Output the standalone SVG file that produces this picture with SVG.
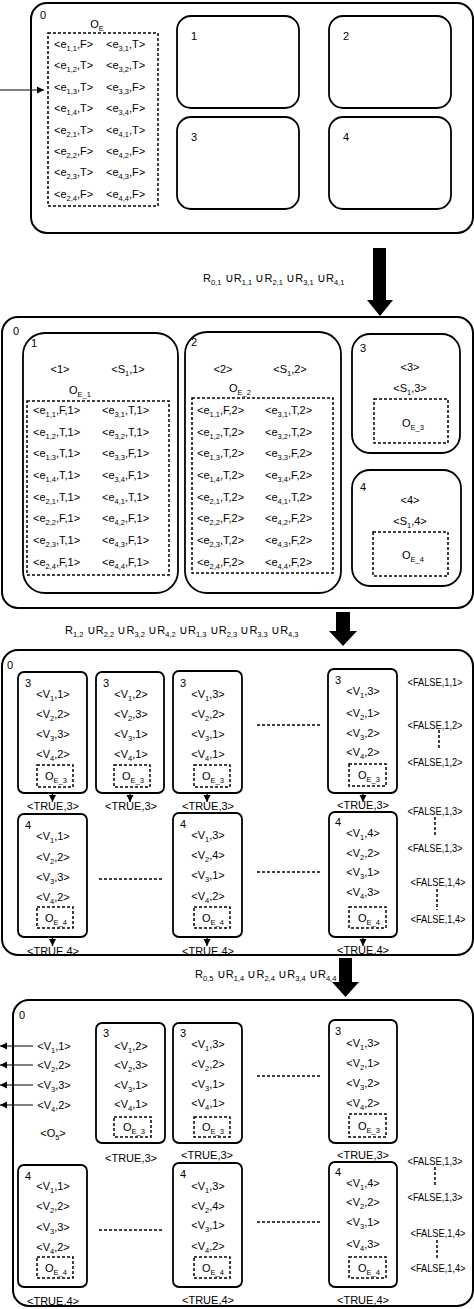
<svg xmlns="http://www.w3.org/2000/svg" width="474" height="1309" viewBox="0 0 474 1309">
<style>
.t{font-family:"Liberation Sans",Arial,sans-serif;font-size:11px;fill:#000}
.m{text-anchor:middle}
.s{font-size:7.5px}
.u{font-size:12px}
.outer{fill:#fff;stroke:#000;stroke-width:2}
.box{fill:none;stroke:#000;stroke-width:1.8}
.dash{fill:none;stroke:#000;stroke-width:1.5;stroke-dasharray:3 2}
.dl{stroke:#000;stroke-width:1.5;stroke-dasharray:3 2;fill:none}
.ln{stroke:#000;stroke-width:1.2;fill:none}
</style>
<defs>
<marker id="ah" viewBox="0 0 10 10" refX="10" refY="5" markerWidth="6" markerHeight="6" orient="auto-start-reverse">
<path d="M0,0 L10,5 L0,10 z" fill="#000"/>
</marker>
</defs>

<!-- ===== Section 1 ===== -->
<g id="s1-outer">
<rect class="outer" x="31" y="3" width="442" height="230" rx="16"/>
<text class="t" x="40" y="19">0</text>
</g>
<g id="s1-OE">
<text class="t m" x="97" y="28">O<tspan class="s" dy="2.5">E</tspan></text>
<rect class="dash" x="48" y="33" width="110" height="173"/>
<text class="t" x="54" y="48">&lt;e<tspan class="s" dy="2.5">1,1</tspan><tspan dy="-2.5">,F&gt;</tspan></text>
<text class="t" x="54" y="69">&lt;e<tspan class="s" dy="2.5">1,2</tspan><tspan dy="-2.5">,T&gt;</tspan></text>
<text class="t" x="54" y="91">&lt;e<tspan class="s" dy="2.5">1,3</tspan><tspan dy="-2.5">,T&gt;</tspan></text>
<text class="t" x="54" y="112">&lt;e<tspan class="s" dy="2.5">1,4</tspan><tspan dy="-2.5">,T&gt;</tspan></text>
<text class="t" x="54" y="134">&lt;e<tspan class="s" dy="2.5">2,1</tspan><tspan dy="-2.5">,T&gt;</tspan></text>
<text class="t" x="54" y="155">&lt;e<tspan class="s" dy="2.5">2,2</tspan><tspan dy="-2.5">,F&gt;</tspan></text>
<text class="t" x="54" y="176">&lt;e<tspan class="s" dy="2.5">2,3</tspan><tspan dy="-2.5">,T&gt;</tspan></text>
<text class="t" x="54" y="198">&lt;e<tspan class="s" dy="2.5">2,4</tspan><tspan dy="-2.5">,F&gt;</tspan></text>
<text class="t" x="106" y="48">&lt;e<tspan class="s" dy="2.5">3,1</tspan><tspan dy="-2.5">,T&gt;</tspan></text>
<text class="t" x="106" y="69">&lt;e<tspan class="s" dy="2.5">3,2</tspan><tspan dy="-2.5">,T&gt;</tspan></text>
<text class="t" x="106" y="91">&lt;e<tspan class="s" dy="2.5">3,3</tspan><tspan dy="-2.5">,F&gt;</tspan></text>
<text class="t" x="106" y="112">&lt;e<tspan class="s" dy="2.5">3,4</tspan><tspan dy="-2.5">,F&gt;</tspan></text>
<text class="t" x="106" y="134">&lt;e<tspan class="s" dy="2.5">4,1</tspan><tspan dy="-2.5">,T&gt;</tspan></text>
<text class="t" x="106" y="155">&lt;e<tspan class="s" dy="2.5">4,2</tspan><tspan dy="-2.5">,F&gt;</tspan></text>
<text class="t" x="106" y="176">&lt;e<tspan class="s" dy="2.5">4,3</tspan><tspan dy="-2.5">,F&gt;</tspan></text>
<text class="t" x="106" y="198">&lt;e<tspan class="s" dy="2.5">4,4</tspan><tspan dy="-2.5">,F&gt;</tspan></text>
</g>
<g id="s1-box1"><rect class="box" x="177" y="16" width="122" height="92" rx="14"/><text class="t" x="191" y="40">1</text></g>
<g id="s1-box2"><rect class="box" x="329" y="16" width="122" height="92" rx="14"/><text class="t" x="343" y="40">2</text></g>
<g id="s1-box3"><rect class="box" x="177" y="117" width="122" height="92" rx="14"/><text class="t" x="191" y="141">3</text></g>
<g id="s1-box4"><rect class="box" x="329" y="117" width="122" height="92" rx="14"/><text class="t" x="343" y="141">4</text></g>

<!-- ===== Section 2 ===== -->
<g id="s2-outer">
<rect class="outer" x="2" y="317" width="471" height="291" rx="16"/>
<text class="t" x="13" y="335">0</text>
</g>
<g id="s2-box1">
<rect class="box" x="23" y="333" width="155" height="260" rx="22"/>
<text class="t" x="31" y="347">1</text>
<text class="t m" x="60" y="373">&lt;1&gt;</text>
<text class="t m" x="128" y="373">&lt;S<tspan class="s" dy="2.5">1</tspan><tspan dy="-2.5">,1&gt;</tspan></text>
<text class="t m" x="80" y="394">O<tspan class="s" dy="2.5">E_1</tspan></text>
<rect class="dash" x="27" y="401" width="142" height="174"/>
<text class="t" x="33" y="414">&lt;e<tspan class="s" dy="2.5">1,1</tspan><tspan dy="-2.5">,F,1&gt;</tspan></text>
<text class="t" x="33" y="436">&lt;e<tspan class="s" dy="2.5">1,2</tspan><tspan dy="-2.5">,T,1&gt;</tspan></text>
<text class="t" x="33" y="457">&lt;e<tspan class="s" dy="2.5">1,3</tspan><tspan dy="-2.5">,T,1&gt;</tspan></text>
<text class="t" x="33" y="479">&lt;e<tspan class="s" dy="2.5">1,4</tspan><tspan dy="-2.5">,T,1&gt;</tspan></text>
<text class="t" x="33" y="501">&lt;e<tspan class="s" dy="2.5">2,1</tspan><tspan dy="-2.5">,T,1&gt;</tspan></text>
<text class="t" x="33" y="522">&lt;e<tspan class="s" dy="2.5">2,2</tspan><tspan dy="-2.5">,F,1&gt;</tspan></text>
<text class="t" x="33" y="544">&lt;e<tspan class="s" dy="2.5">2,3</tspan><tspan dy="-2.5">,T,1&gt;</tspan></text>
<text class="t" x="33" y="566">&lt;e<tspan class="s" dy="2.5">2,4</tspan><tspan dy="-2.5">,F,1&gt;</tspan></text>
<text class="t" x="102" y="414">&lt;e<tspan class="s" dy="2.5">3,1</tspan><tspan dy="-2.5">,T,1&gt;</tspan></text>
<text class="t" x="102" y="436">&lt;e<tspan class="s" dy="2.5">3,2</tspan><tspan dy="-2.5">,T,1&gt;</tspan></text>
<text class="t" x="102" y="457">&lt;e<tspan class="s" dy="2.5">3,3</tspan><tspan dy="-2.5">,F,1&gt;</tspan></text>
<text class="t" x="102" y="479">&lt;e<tspan class="s" dy="2.5">3,4</tspan><tspan dy="-2.5">,F,1&gt;</tspan></text>
<text class="t" x="102" y="501">&lt;e<tspan class="s" dy="2.5">4,1</tspan><tspan dy="-2.5">,T,1&gt;</tspan></text>
<text class="t" x="102" y="522">&lt;e<tspan class="s" dy="2.5">4,2</tspan><tspan dy="-2.5">,F,1&gt;</tspan></text>
<text class="t" x="102" y="544">&lt;e<tspan class="s" dy="2.5">4,3</tspan><tspan dy="-2.5">,F,1&gt;</tspan></text>
<text class="t" x="102" y="566">&lt;e<tspan class="s" dy="2.5">4,4</tspan><tspan dy="-2.5">,F,1&gt;</tspan></text>
</g>
<g id="s2-box2">
<rect class="box" x="185" y="332" width="156" height="261" rx="22"/>
<text class="t" x="191" y="346">2</text>
<text class="t m" x="223" y="373">&lt;2&gt;</text>
<text class="t m" x="290" y="373">&lt;S<tspan class="s" dy="2.5">1</tspan><tspan dy="-2.5">,2&gt;</tspan></text>
<text class="t m" x="240" y="392">O<tspan class="s" dy="2.5">E_2</tspan></text>
<rect class="dash" x="192" y="398" width="141" height="175"/>
<text class="t" x="197" y="414">&lt;e<tspan class="s" dy="2.5">1,1</tspan><tspan dy="-2.5">,F,2&gt;</tspan></text>
<text class="t" x="197" y="436">&lt;e<tspan class="s" dy="2.5">1,2</tspan><tspan dy="-2.5">,T,2&gt;</tspan></text>
<text class="t" x="197" y="457">&lt;e<tspan class="s" dy="2.5">1,3</tspan><tspan dy="-2.5">,T,2&gt;</tspan></text>
<text class="t" x="197" y="479">&lt;e<tspan class="s" dy="2.5">1,4</tspan><tspan dy="-2.5">,T,2&gt;</tspan></text>
<text class="t" x="197" y="501">&lt;e<tspan class="s" dy="2.5">2,1</tspan><tspan dy="-2.5">,T,2&gt;</tspan></text>
<text class="t" x="197" y="522">&lt;e<tspan class="s" dy="2.5">2,2</tspan><tspan dy="-2.5">,F,2&gt;</tspan></text>
<text class="t" x="197" y="544">&lt;e<tspan class="s" dy="2.5">2,3</tspan><tspan dy="-2.5">,T,2&gt;</tspan></text>
<text class="t" x="197" y="566">&lt;e<tspan class="s" dy="2.5">2,4</tspan><tspan dy="-2.5">,F,2&gt;</tspan></text>
<text class="t" x="265" y="414">&lt;e<tspan class="s" dy="2.5">3,1</tspan><tspan dy="-2.5">,T,2&gt;</tspan></text>
<text class="t" x="265" y="436">&lt;e<tspan class="s" dy="2.5">3,2</tspan><tspan dy="-2.5">,T,2&gt;</tspan></text>
<text class="t" x="265" y="457">&lt;e<tspan class="s" dy="2.5">3,3</tspan><tspan dy="-2.5">,F,2&gt;</tspan></text>
<text class="t" x="265" y="479">&lt;e<tspan class="s" dy="2.5">3,4</tspan><tspan dy="-2.5">,F,2&gt;</tspan></text>
<text class="t" x="265" y="501">&lt;e<tspan class="s" dy="2.5">4,1</tspan><tspan dy="-2.5">,T,2&gt;</tspan></text>
<text class="t" x="265" y="522">&lt;e<tspan class="s" dy="2.5">4,2</tspan><tspan dy="-2.5">,F,2&gt;</tspan></text>
<text class="t" x="265" y="544">&lt;e<tspan class="s" dy="2.5">4,3</tspan><tspan dy="-2.5">,F,2&gt;</tspan></text>
<text class="t" x="265" y="566">&lt;e<tspan class="s" dy="2.5">4,4</tspan><tspan dy="-2.5">,F,2&gt;</tspan></text>
</g>
<g id="s2-box3">
<rect class="box" x="352" y="334" width="108" height="119" rx="18"/>
<text class="t" x="360" y="352">3</text>
<text class="t m" x="410" y="371">&lt;3&gt;</text>
<text class="t m" x="410" y="392">&lt;S<tspan class="s" dy="2.5">1</tspan><tspan dy="-2.5">,3&gt;</tspan></text>
<rect class="dash" x="374" y="399" width="74" height="44"/>
<text class="t m" x="413" y="427">O<tspan class="s" dy="2.5">E_3</tspan></text>
</g>
<g id="s2-box4">
<rect class="box" x="352" y="470" width="109" height="116" rx="18"/>
<text class="t" x="360" y="491">4</text>
<text class="t m" x="410" y="504">&lt;4&gt;</text>
<text class="t m" x="410" y="525">&lt;S<tspan class="s" dy="2.5">1</tspan><tspan dy="-2.5">,4&gt;</tspan></text>
<rect class="dash" x="373" y="532" width="75" height="44"/>
<text class="t m" x="413" y="559">O<tspan class="s" dy="2.5">E_4</tspan></text>
</g>

<!-- ===== Section 3 ===== -->
<g id="s3-outer">
<rect class="outer" x="2" y="650" width="471" height="305" rx="16"/>
<text class="t" x="7" y="669">0</text>
</g>
<g id="s3-a">
<rect class="box" x="18" y="672" width="69" height="121" rx="6"/>
<text class="t" x="25" y="687">3</text>
<text class="t m" x="53" y="698">&lt;V<tspan class="s" dy="2.5">1</tspan><tspan dy="-2.5">,1&gt;</tspan></text>
<text class="t m" x="53" y="718">&lt;V<tspan class="s" dy="2.5">2</tspan><tspan dy="-2.5">,2&gt;</tspan></text>
<text class="t m" x="53" y="738">&lt;V<tspan class="s" dy="2.5">3</tspan><tspan dy="-2.5">,3&gt;</tspan></text>
<text class="t m" x="53" y="758">&lt;V<tspan class="s" dy="2.5">4</tspan><tspan dy="-2.5">,2&gt;</tspan></text>
<rect class="dash" x="37" y="765" width="36" height="22"/>
<text class="t m" x="56" y="780">O<tspan class="s" dy="2.5">E_3</tspan></text>
<text class="t m" x="53" y="810">&lt;TRUE,3&gt;</text>
</g>
<g id="s3-b">
<rect class="box" x="96" y="672" width="68" height="121" rx="6"/>
<text class="t" x="103" y="687">3</text>
<text class="t m" x="131" y="698">&lt;V<tspan class="s" dy="2.5">1</tspan><tspan dy="-2.5">,2&gt;</tspan></text>
<text class="t m" x="131" y="718">&lt;V<tspan class="s" dy="2.5">2</tspan><tspan dy="-2.5">,3&gt;</tspan></text>
<text class="t m" x="131" y="738">&lt;V<tspan class="s" dy="2.5">3</tspan><tspan dy="-2.5">,1&gt;</tspan></text>
<text class="t m" x="131" y="758">&lt;V<tspan class="s" dy="2.5">4</tspan><tspan dy="-2.5">,1&gt;</tspan></text>
<rect class="dash" x="114" y="765" width="36" height="22"/>
<text class="t m" x="133" y="780">O<tspan class="s" dy="2.5">E_3</tspan></text>
<text class="t m" x="131" y="810">&lt;TRUE,3&gt;</text>
</g>
<g id="s3-c">
<rect class="box" x="173" y="671" width="69" height="122" rx="6"/>
<text class="t" x="180" y="687">3</text>
<text class="t m" x="208" y="698">&lt;V<tspan class="s" dy="2.5">1</tspan><tspan dy="-2.5">,3&gt;</tspan></text>
<text class="t m" x="208" y="718">&lt;V<tspan class="s" dy="2.5">2</tspan><tspan dy="-2.5">,2&gt;</tspan></text>
<text class="t m" x="208" y="738">&lt;V<tspan class="s" dy="2.5">3</tspan><tspan dy="-2.5">,1&gt;</tspan></text>
<text class="t m" x="208" y="758">&lt;V<tspan class="s" dy="2.5">4</tspan><tspan dy="-2.5">,1&gt;</tspan></text>
<rect class="dash" x="194" y="765" width="36" height="22"/>
<text class="t m" x="213" y="780">O<tspan class="s" dy="2.5">E_3</tspan></text>
<text class="t m" x="208" y="810">&lt;TRUE,3&gt;</text>
</g>
<g id="s3-d">
<rect class="box" x="328" y="669" width="69" height="124" rx="6"/>
<text class="t" x="335" y="684">3</text>
<text class="t m" x="363" y="695">&lt;V<tspan class="s" dy="2.5">1</tspan><tspan dy="-2.5">,3&gt;</tspan></text>
<text class="t m" x="363" y="717">&lt;V<tspan class="s" dy="2.5">2</tspan><tspan dy="-2.5">,1&gt;</tspan></text>
<text class="t m" x="363" y="737">&lt;V<tspan class="s" dy="2.5">3</tspan><tspan dy="-2.5">,2&gt;</tspan></text>
<text class="t m" x="363" y="756">&lt;V<tspan class="s" dy="2.5">4</tspan><tspan dy="-2.5">,2&gt;</tspan></text>
<rect class="dash" x="349" y="764" width="37" height="22"/>
<text class="t m" x="369" y="779">O<tspan class="s" dy="2.5">E_3</tspan></text>
<text class="t m" x="363" y="809">&lt;TRUE,3&gt;</text>
</g>
<g id="s3-e">
<rect class="box" x="18" y="814" width="69" height="123" rx="6"/>
<text class="t" x="25" y="829">4</text>
<text class="t m" x="53" y="840">&lt;V<tspan class="s" dy="2.5">1</tspan><tspan dy="-2.5">,1&gt;</tspan></text>
<text class="t m" x="53" y="861">&lt;V<tspan class="s" dy="2.5">2</tspan><tspan dy="-2.5">,2&gt;</tspan></text>
<text class="t m" x="53" y="881">&lt;V<tspan class="s" dy="2.5">3</tspan><tspan dy="-2.5">,3&gt;</tspan></text>
<text class="t m" x="53" y="901">&lt;V<tspan class="s" dy="2.5">4</tspan><tspan dy="-2.5">,2&gt;</tspan></text>
<rect class="dash" x="37" y="907" width="36" height="21"/>
<text class="t m" x="56" y="922">O<tspan class="s" dy="2.5">E_4</tspan></text>
<text class="t m" x="53" y="955">&lt;TRUE,4&gt;</text>
</g>
<g id="s3-f">
<rect class="box" x="173" y="813" width="69" height="124" rx="6"/>
<text class="t" x="180" y="828">4</text>
<text class="t m" x="208" y="839">&lt;V<tspan class="s" dy="2.5">1</tspan><tspan dy="-2.5">,3&gt;</tspan></text>
<text class="t m" x="208" y="859">&lt;V<tspan class="s" dy="2.5">2</tspan><tspan dy="-2.5">,4&gt;</tspan></text>
<text class="t m" x="208" y="879">&lt;V<tspan class="s" dy="2.5">3</tspan><tspan dy="-2.5">,1&gt;</tspan></text>
<text class="t m" x="208" y="900">&lt;V<tspan class="s" dy="2.5">4</tspan><tspan dy="-2.5">,2&gt;</tspan></text>
<rect class="dash" x="194" y="907" width="36" height="21"/>
<text class="t m" x="213" y="922">O<tspan class="s" dy="2.5">E_4</tspan></text>
<text class="t m" x="208" y="955">&lt;TRUE,4&gt;</text>
</g>
<g id="s3-g">
<rect class="box" x="329" y="812" width="68" height="125" rx="6"/>
<text class="t" x="335" y="826">4</text>
<text class="t m" x="363" y="837">&lt;V<tspan class="s" dy="2.5">1</tspan><tspan dy="-2.5">,4&gt;</tspan></text>
<text class="t m" x="363" y="857">&lt;V<tspan class="s" dy="2.5">2</tspan><tspan dy="-2.5">,2&gt;</tspan></text>
<text class="t m" x="363" y="876">&lt;V<tspan class="s" dy="2.5">3</tspan><tspan dy="-2.5">,1&gt;</tspan></text>
<text class="t m" x="363" y="896">&lt;V<tspan class="s" dy="2.5">4</tspan><tspan dy="-2.5">,3&gt;</tspan></text>
<rect class="dash" x="349" y="907" width="37" height="21"/>
<text class="t m" x="369" y="922">O<tspan class="s" dy="2.5">E_4</tspan></text>
<text class="t m" x="363" y="954">&lt;TRUE,4&gt;</text>
</g>
<g id="s3-false">
<text class="t m" x="435" y="686" textLength="55" lengthAdjust="spacingAndGlyphs">&lt;FALSE,1,1&gt;</text>
<text class="t m" x="435" y="729" textLength="55" lengthAdjust="spacingAndGlyphs">&lt;FALSE,1,2&gt;</text>
<text class="t m" x="435" y="766" textLength="55" lengthAdjust="spacingAndGlyphs">&lt;FALSE,1,2&gt;</text>
<text class="t m" x="435" y="815" textLength="55" lengthAdjust="spacingAndGlyphs">&lt;FALSE,1,3&gt;</text>
<text class="t m" x="435" y="852" textLength="55" lengthAdjust="spacingAndGlyphs">&lt;FALSE,1,3&gt;</text>
<text class="t m" x="438" y="886" textLength="55" lengthAdjust="spacingAndGlyphs">&lt;FALSE,1,4&gt;</text>
<text class="t m" x="438" y="923" textLength="55" lengthAdjust="spacingAndGlyphs">&lt;FALSE,1,4&gt;</text>
</g>

<!-- ===== Section 4 ===== -->
<g id="s4-outer">
<rect class="outer" x="13" y="1000" width="460" height="306" rx="16"/>
<text class="t" x="19" y="1019">0</text>
</g>
<g id="s4-root">
<text class="t m" x="54" y="1050">&lt;V<tspan class="s" dy="2.5">1</tspan><tspan dy="-2.5">,1&gt;</tspan></text>
<text class="t m" x="54" y="1069">&lt;V<tspan class="s" dy="2.5">2</tspan><tspan dy="-2.5">,2&gt;</tspan></text>
<text class="t m" x="54" y="1089">&lt;V<tspan class="s" dy="2.5">3</tspan><tspan dy="-2.5">,3&gt;</tspan></text>
<text class="t m" x="54" y="1109">&lt;V<tspan class="s" dy="2.5">4</tspan><tspan dy="-2.5">,2&gt;</tspan></text>
<text class="t m" x="53" y="1137">&lt;O<tspan class="s" dy="2.5">5</tspan><tspan dy="-2.5">&gt;</tspan></text>
</g>
<g id="s4-b">
<rect class="box" x="96" y="1023" width="69" height="120" rx="6"/>
<text class="t" x="103" y="1037">3</text>
<text class="t m" x="131" y="1050">&lt;V<tspan class="s" dy="2.5">1</tspan><tspan dy="-2.5">,2&gt;</tspan></text>
<text class="t m" x="131" y="1069">&lt;V<tspan class="s" dy="2.5">2</tspan><tspan dy="-2.5">,3&gt;</tspan></text>
<text class="t m" x="131" y="1089">&lt;V<tspan class="s" dy="2.5">3</tspan><tspan dy="-2.5">,1&gt;</tspan></text>
<text class="t m" x="131" y="1108">&lt;V<tspan class="s" dy="2.5">4</tspan><tspan dy="-2.5">,1&gt;</tspan></text>
<rect class="dash" x="114" y="1117" width="37" height="20"/>
<text class="t m" x="134" y="1131">O<tspan class="s" dy="2.5">E_3</tspan></text>
<text class="t m" x="131" y="1162">&lt;TRUE,3&gt;</text>
</g>
<g id="s4-c">
<rect class="box" x="173" y="1023" width="69" height="120" rx="6"/>
<text class="t" x="180" y="1037">3</text>
<text class="t m" x="208" y="1048">&lt;V<tspan class="s" dy="2.5">1</tspan><tspan dy="-2.5">,3&gt;</tspan></text>
<text class="t m" x="208" y="1068">&lt;V<tspan class="s" dy="2.5">2</tspan><tspan dy="-2.5">,2&gt;</tspan></text>
<text class="t m" x="208" y="1088">&lt;V<tspan class="s" dy="2.5">3</tspan><tspan dy="-2.5">,1&gt;</tspan></text>
<text class="t m" x="208" y="1107">&lt;V<tspan class="s" dy="2.5">4</tspan><tspan dy="-2.5">,1&gt;</tspan></text>
<rect class="dash" x="194" y="1117" width="36" height="20"/>
<text class="t m" x="213" y="1131">O<tspan class="s" dy="2.5">E_3</tspan></text>
<text class="t m" x="207" y="1159">&lt;TRUE,3&gt;</text>
</g>
<g id="s4-d">
<rect class="box" x="329" y="1020" width="68" height="123" rx="6"/>
<text class="t" x="335" y="1035">3</text>
<text class="t m" x="363" y="1047">&lt;V<tspan class="s" dy="2.5">1</tspan><tspan dy="-2.5">,3&gt;</tspan></text>
<text class="t m" x="363" y="1067">&lt;V<tspan class="s" dy="2.5">2</tspan><tspan dy="-2.5">,1&gt;</tspan></text>
<text class="t m" x="363" y="1087">&lt;V<tspan class="s" dy="2.5">3</tspan><tspan dy="-2.5">,2&gt;</tspan></text>
<text class="t m" x="363" y="1107">&lt;V<tspan class="s" dy="2.5">4</tspan><tspan dy="-2.5">,2&gt;</tspan></text>
<rect class="dash" x="349" y="1114" width="37" height="23"/>
<text class="t m" x="369" y="1130">O<tspan class="s" dy="2.5">E_3</tspan></text>
<text class="t m" x="363" y="1159">&lt;TRUE,3&gt;</text>
</g>
<g id="s4-e">
<rect class="box" x="18" y="1165" width="69" height="122" rx="6"/>
<text class="t" x="25" y="1180">4</text>
<text class="t m" x="53" y="1190">&lt;V<tspan class="s" dy="2.5">1</tspan><tspan dy="-2.5">,1&gt;</tspan></text>
<text class="t m" x="53" y="1210">&lt;V<tspan class="s" dy="2.5">2</tspan><tspan dy="-2.5">,2&gt;</tspan></text>
<text class="t m" x="53" y="1231">&lt;V<tspan class="s" dy="2.5">3</tspan><tspan dy="-2.5">,3&gt;</tspan></text>
<text class="t m" x="53" y="1251">&lt;V<tspan class="s" dy="2.5">4</tspan><tspan dy="-2.5">,2&gt;</tspan></text>
<rect class="dash" x="37" y="1257" width="36" height="21"/>
<text class="t m" x="56" y="1272">O<tspan class="s" dy="2.5">E_4</tspan></text>
<text class="t m" x="53" y="1305">&lt;TRUE,4&gt;</text>
</g>
<g id="s4-f">
<rect class="box" x="173" y="1163" width="69" height="124" rx="6"/>
<text class="t" x="180" y="1178">4</text>
<text class="t m" x="208" y="1190">&lt;V<tspan class="s" dy="2.5">1</tspan><tspan dy="-2.5">,3&gt;</tspan></text>
<text class="t m" x="208" y="1210">&lt;V<tspan class="s" dy="2.5">2</tspan><tspan dy="-2.5">,4&gt;</tspan></text>
<text class="t m" x="208" y="1229">&lt;V<tspan class="s" dy="2.5">3</tspan><tspan dy="-2.5">,1&gt;</tspan></text>
<text class="t m" x="208" y="1250">&lt;V<tspan class="s" dy="2.5">4</tspan><tspan dy="-2.5">,2&gt;</tspan></text>
<rect class="dash" x="194" y="1257" width="36" height="21"/>
<text class="t m" x="213" y="1272">O<tspan class="s" dy="2.5">E_4</tspan></text>
<text class="t m" x="208" y="1304">&lt;TRUE,4&gt;</text>
</g>
<g id="s4-g">
<rect class="box" x="329" y="1162" width="68" height="125" rx="6"/>
<text class="t" x="335" y="1176">4</text>
<text class="t m" x="363" y="1187">&lt;V<tspan class="s" dy="2.5">1</tspan><tspan dy="-2.5">,4&gt;</tspan></text>
<text class="t m" x="363" y="1206">&lt;V<tspan class="s" dy="2.5">2</tspan><tspan dy="-2.5">,2&gt;</tspan></text>
<text class="t m" x="363" y="1226">&lt;V<tspan class="s" dy="2.5">3</tspan><tspan dy="-2.5">,1&gt;</tspan></text>
<text class="t m" x="363" y="1248">&lt;V<tspan class="s" dy="2.5">4</tspan><tspan dy="-2.5">,3&gt;</tspan></text>
<rect class="dash" x="349" y="1257" width="37" height="21"/>
<text class="t m" x="369" y="1272">O<tspan class="s" dy="2.5">E_4</tspan></text>
<text class="t m" x="363" y="1304">&lt;TRUE,4&gt;</text>
</g>
<g id="s4-false">
<text class="t m" x="435" y="1165" textLength="55" lengthAdjust="spacingAndGlyphs">&lt;FALSE,1,3&gt;</text>
<text class="t m" x="435" y="1201" textLength="55" lengthAdjust="spacingAndGlyphs">&lt;FALSE,1,3&gt;</text>
<text class="t m" x="438" y="1237" textLength="55" lengthAdjust="spacingAndGlyphs">&lt;FALSE,1,4&gt;</text>
<text class="t m" x="438" y="1272" textLength="55" lengthAdjust="spacingAndGlyphs">&lt;FALSE,1,4&gt;</text>
</g>

<!-- ===== Transition labels ===== -->
<g id="labels">
<text class="t" x="203" y="282">R<tspan class="s" dy="2.5">0,1</tspan><tspan class="u" dy="-2.5"> ∪</tspan><tspan>R</tspan><tspan class="s" dy="2.5">1,1</tspan><tspan class="u" dy="-2.5"> ∪</tspan><tspan>R</tspan><tspan class="s" dy="2.5">2,1</tspan><tspan class="u" dy="-2.5"> ∪</tspan><tspan>R</tspan><tspan class="s" dy="2.5">3,1</tspan><tspan class="u" dy="-2.5"> ∪</tspan><tspan>R</tspan><tspan class="s" dy="2.5">4,1</tspan></text>
<text class="t" x="65" y="634">R<tspan class="s" dy="2.5">1,2</tspan><tspan class="u" dy="-2.5"> ∪</tspan><tspan>R</tspan><tspan class="s" dy="2.5">2,2</tspan><tspan class="u" dy="-2.5"> ∪</tspan><tspan>R</tspan><tspan class="s" dy="2.5">3,2</tspan><tspan class="u" dy="-2.5"> ∪</tspan><tspan>R</tspan><tspan class="s" dy="2.5">4,2</tspan><tspan class="u" dy="-2.5"> ∪</tspan><tspan>R</tspan><tspan class="s" dy="2.5">1,3</tspan><tspan class="u" dy="-2.5"> ∪</tspan><tspan>R</tspan><tspan class="s" dy="2.5">2,3</tspan><tspan class="u" dy="-2.5"> ∪</tspan><tspan>R</tspan><tspan class="s" dy="2.5">3,3</tspan><tspan class="u" dy="-2.5"> ∪</tspan><tspan>R</tspan><tspan class="s" dy="2.5">4,3</tspan></text>
<text class="t" x="195" y="978">R<tspan class="s" dy="2.5">0,5</tspan><tspan class="u" dy="-2.5"> ∪</tspan><tspan>R</tspan><tspan class="s" dy="2.5">1,4</tspan><tspan class="u" dy="-2.5"> ∪</tspan><tspan>R</tspan><tspan class="s" dy="2.5">2,4</tspan><tspan class="u" dy="-2.5"> ∪</tspan><tspan>R</tspan><tspan class="s" dy="2.5">3,4</tspan><tspan class="u" dy="-2.5"> ∪</tspan><tspan>R</tspan><tspan class="s" dy="2.5">4,4</tspan></text>
</g>

<!-- ===== Connectors ===== -->
<g id="connectors">
<line class="ln" x1="0" y1="90" x2="44" y2="90" marker-end="url(#ah)"/>
<path d="M373,248 H386 V300 H393 L380,316 L367,300 H373 Z" fill="#000"/>
<path d="M336,612 H350 V631 H357 L343,646 L329,631 H336 Z" fill="#000"/>
<path d="M339,958 H352 V982 H359 L345.5,997 L332,982 H339 Z" fill="#000"/>
<line class="ln" x1="52.5" y1="793" x2="52.5" y2="802" marker-end="url(#ah)"/>
<line class="ln" x1="130" y1="793" x2="130" y2="802" marker-end="url(#ah)"/>
<line class="ln" x1="207" y1="793" x2="207" y2="802" marker-end="url(#ah)"/>
<line class="ln" x1="363" y1="793" x2="363" y2="802" marker-end="url(#ah)"/>
<line class="ln" x1="52.5" y1="937" x2="52.5" y2="946" marker-end="url(#ah)"/>
<line class="ln" x1="207" y1="937" x2="207" y2="946" marker-end="url(#ah)"/>
<line class="ln" x1="363" y1="937" x2="363" y2="946" marker-end="url(#ah)"/>
<line class="dl" x1="257" y1="725" x2="322" y2="725"/>
<line class="dl" x1="99" y1="879" x2="163" y2="879"/>
<line class="dl" x1="257" y1="872" x2="322" y2="872"/>
<line class="dl" x1="439" y1="730" x2="439" y2="750"/>
<line class="dl" x1="435" y1="817" x2="435" y2="837"/>
<line class="dl" x1="437" y1="889" x2="437" y2="910"/>
<line class="ln" x1="33" y1="1046" x2="0" y2="1046" marker-end="url(#ah)"/>
<line class="ln" x1="33" y1="1065" x2="0" y2="1065" marker-end="url(#ah)"/>
<line class="ln" x1="33" y1="1085" x2="0" y2="1085" marker-end="url(#ah)"/>
<line class="ln" x1="33" y1="1105" x2="0" y2="1105" marker-end="url(#ah)"/>
<line class="dl" x1="257" y1="1076" x2="322" y2="1076"/>
<line class="dl" x1="99" y1="1230" x2="163" y2="1230"/>
<line class="dl" x1="257" y1="1222" x2="322" y2="1222"/>
<line class="dl" x1="435" y1="1167" x2="435" y2="1187"/>
<line class="dl" x1="437" y1="1240" x2="437" y2="1260"/>
</g>
</svg>
